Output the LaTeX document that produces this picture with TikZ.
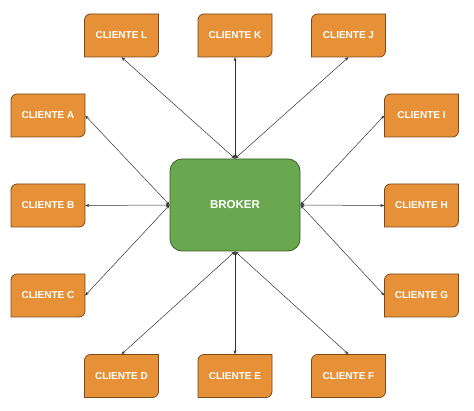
\documentclass[tikz,border=0pt]{standalone}
\usepackage{fontspec}
\setmainfont{Liberation Sans}
\usetikzlibrary{arrows.meta}

\definecolor{clfill}{HTML}{E69138}
\definecolor{cledge}{HTML}{7A4A1C}
\definecolor{brfill}{HTML}{6AA84F}
\definecolor{bredge}{HTML}{3B5E2B}

\begin{document}
\begin{tikzpicture}[x=1pt, y=1pt, >={Stealth[length=4pt, width=3pt]},
  cliente/.style={minimum width=74pt, minimum height=43pt, inner sep=0pt,
    text=white, font=\bfseries\fontsize{10}{12}\selectfont},
  broker/.style={draw=bredge, fill=brfill, rounded corners=12pt,
    minimum width=130pt, minimum height=92pt, line width=0.8pt,
    text=white, font=\bfseries\fontsize{11.5}{13}\selectfont},
  enlace/.style={<->, draw=black!80, line width=0.5pt}]
  \useasboundingbox (0,0) rectangle (474,410);
  % Broker in the middle
  \node[broker] (broker) at (235,205) {BROKER};
  % Clients: box with two round corners (top left, bottom right), then the label
  \foreach \n/\x/\y in {L/121.5/374.5, K/235/374.5, J/348.5/374.5,
                        A/48/294.5, B/48/204.5, C/48/114.5,
                        I/421.5/294.5, H/421.5/204.5, G/421.5/114.5,
                        D/121.5/34, E/235/34, F/348.5/34} {
    \filldraw[fill=clfill, draw=cledge, line width=0.8pt]
      (\x-37,\y-21.5) -- (\x+31,\y-21.5)
      arc[start angle=-90, end angle=0, radius=6pt] -- (\x+37,\y+21.5)
      -- (\x-31,\y+21.5) arc[start angle=90, end angle=180, radius=6pt] -- cycle;
    \node[cliente] (cl\n) at (\x,\y) {CLIENTE \n};
  }
  % Links from each side of the broker
  \foreach \n/\a/\b in {L/north/south, K/north/south, J/north/south,
                        A/west/east, B/west/east, C/west/east,
                        I/east/west, H/east/west, G/east/west,
                        D/south/north, E/south/north, F/south/north} {
    \draw[enlace] (broker.\a) -- (cl\n.\b);
  }
\end{tikzpicture}
\end{document}
